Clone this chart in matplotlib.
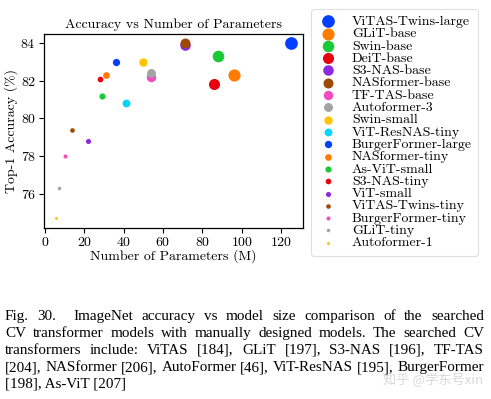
import numpy as np
import matplotlib.pyplot as plt
import seaborn as sns

# ================================
# Data
# ================================
models = ["ViTAS-Twins-large", "GLiT-base", "Swin-base", "DeiT-base",
          "S3-NAS-base", "NASformer-base", "TF-TAS-base", "Autoformer-3",
          "Swin-small", "ViT-ResNAS-tiny", "BurgerFormer-large",
          "NASformer-tiny", "As-ViT-small", "S3-NAS-tiny", "ViT-small",
          "ViTAS-Twins-tiny", "BurgerFormer-tiny", "GLiT-tiny", "Autoformer-1"]
params = [125.0, 96.1, 88.0, 86.0, 71.0, 71.0, 54.0, 54.0, 50.0, 41.0,
          36.0, 31.0, 29.0, 28.0, 22.0, 13.8, 10.0, 7.2, 5.7]
acc = [84.0, 82.3, 83.3, 81.8, 83.9, 84.0, 82.2, 82.4, 83.0, 80.8,
       83.0, 82.3, 81.2, 82.1, 78.8, 79.4, 78.0, 76.3, 74.7]

caption_lines = [
    "Fig. 30.  ImageNet accuracy vs model size comparison of the searched",
    "CV transformer models with manually designed models. The searched CV",
    "transformers include: ViTAS [184], GLiT [197], S3-NAS [196], TF-TAS",
    "[204], NASformer [206], AutoFormer [46], ViT-ResNAS [195], BurgerFormer",
    "[198], As-ViT [207]",
]

# ================================
# Plot
# ================================
plt.rcParams['font.family'] = 'cmr10'
plt.rcParams['axes.formatter.use_mathtext'] = True
plt.rcParams['mathtext.fontset'] = 'cm'

colors = sns.color_palette("bright", 10)

fig = plt.figure(figsize=(4.91, 3.99), dpi=100)
W, H = 491, 399
ax = fig.add_axes([44.3 / W, 1 - 227.7 / H, (302.7 - 44.3) / W, (227.7 - 34) / H])

n = len(models)
for i in range(n):
    d_px = 12.7 - 0.54 * i
    s = (d_px * 0.72) ** 2
    ax.scatter(params[i], acc[i], s=s, color=colors[i % 10], label=models[i],
               linewidths=0, zorder=3)

ax.set_xlim(-0.4, 131)
ax.set_ylim(74.2, 84.47)
ax.set_xticks([0, 20, 40, 60, 80, 100, 120])
ax.set_yticks([76, 78, 80, 82, 84])
ax.tick_params(labelsize=10, length=3.5, width=0.8, pad=2.5)
for sp in ax.spines.values():
    sp.set_linewidth(0.9)

ax.set_title("Accuracy vs Number of Parameters", fontsize=10, pad=4)
ax.set_xlabel("Number of Parameters (M)", fontsize=10, labelpad=0)
ax.set_ylabel("Top-1 Accuracy (%)", fontsize=10, labelpad=2)

leg = fig.legend(loc="upper left", bbox_to_anchor=(304 / W, 1 - 2 / H),
                 fontsize=10, frameon=True, handletextpad=0.9,
                 labelspacing=-0.03, borderpad=0.45, handlelength=1.6,
                 scatterpoints=1, fancybox=True)
leg.get_frame().set_edgecolor("#d8d8d8")
leg.get_frame().set_linewidth(0.8)

# ================================
# Caption (justified)
# ================================
x0, x1 = 5 / W, 484 / W
y_lines = [316.5, 333.5, 350.5, 367.5, 384.5]
cap_fs = 10.9
fig.canvas.draw()
renderer = fig.canvas.get_renderer()
for li, line in enumerate(caption_lines):
    y = 1 - y_lines[li] / H
    if li == len(caption_lines) - 1:
        fig.text(x0, y, line, fontsize=cap_fs, family="Liberation Serif", va="center")
        continue
    words = [w for w in line.split(" ") if w]
    txts = [fig.text(0, y, w, fontsize=cap_fs, family="Liberation Serif", va="center")
            for w in words]
    widths = [t.get_window_extent(renderer).width / W for t in txts]
    extra = 1 if li == 0 else 0   # double space after "Fig. 30."
    gap = (x1 - x0 - sum(widths)) / (len(txts) - 1 + extra)
    x = x0
    for k, t in enumerate(txts):
        t.set_x(x)
        x += widths[k] + gap
        if li == 0 and k == 1:
            x += gap

fig.text(483 / W, 1 - 380 / H, "知乎 @学东号xin", fontsize=9.5, color="#cfcfcf",
         ha="right", va="center", family=["Noto Sans CJK SC", "DejaVu Sans"], alpha=0.8)

plt.savefig("out.png", dpi=100)
